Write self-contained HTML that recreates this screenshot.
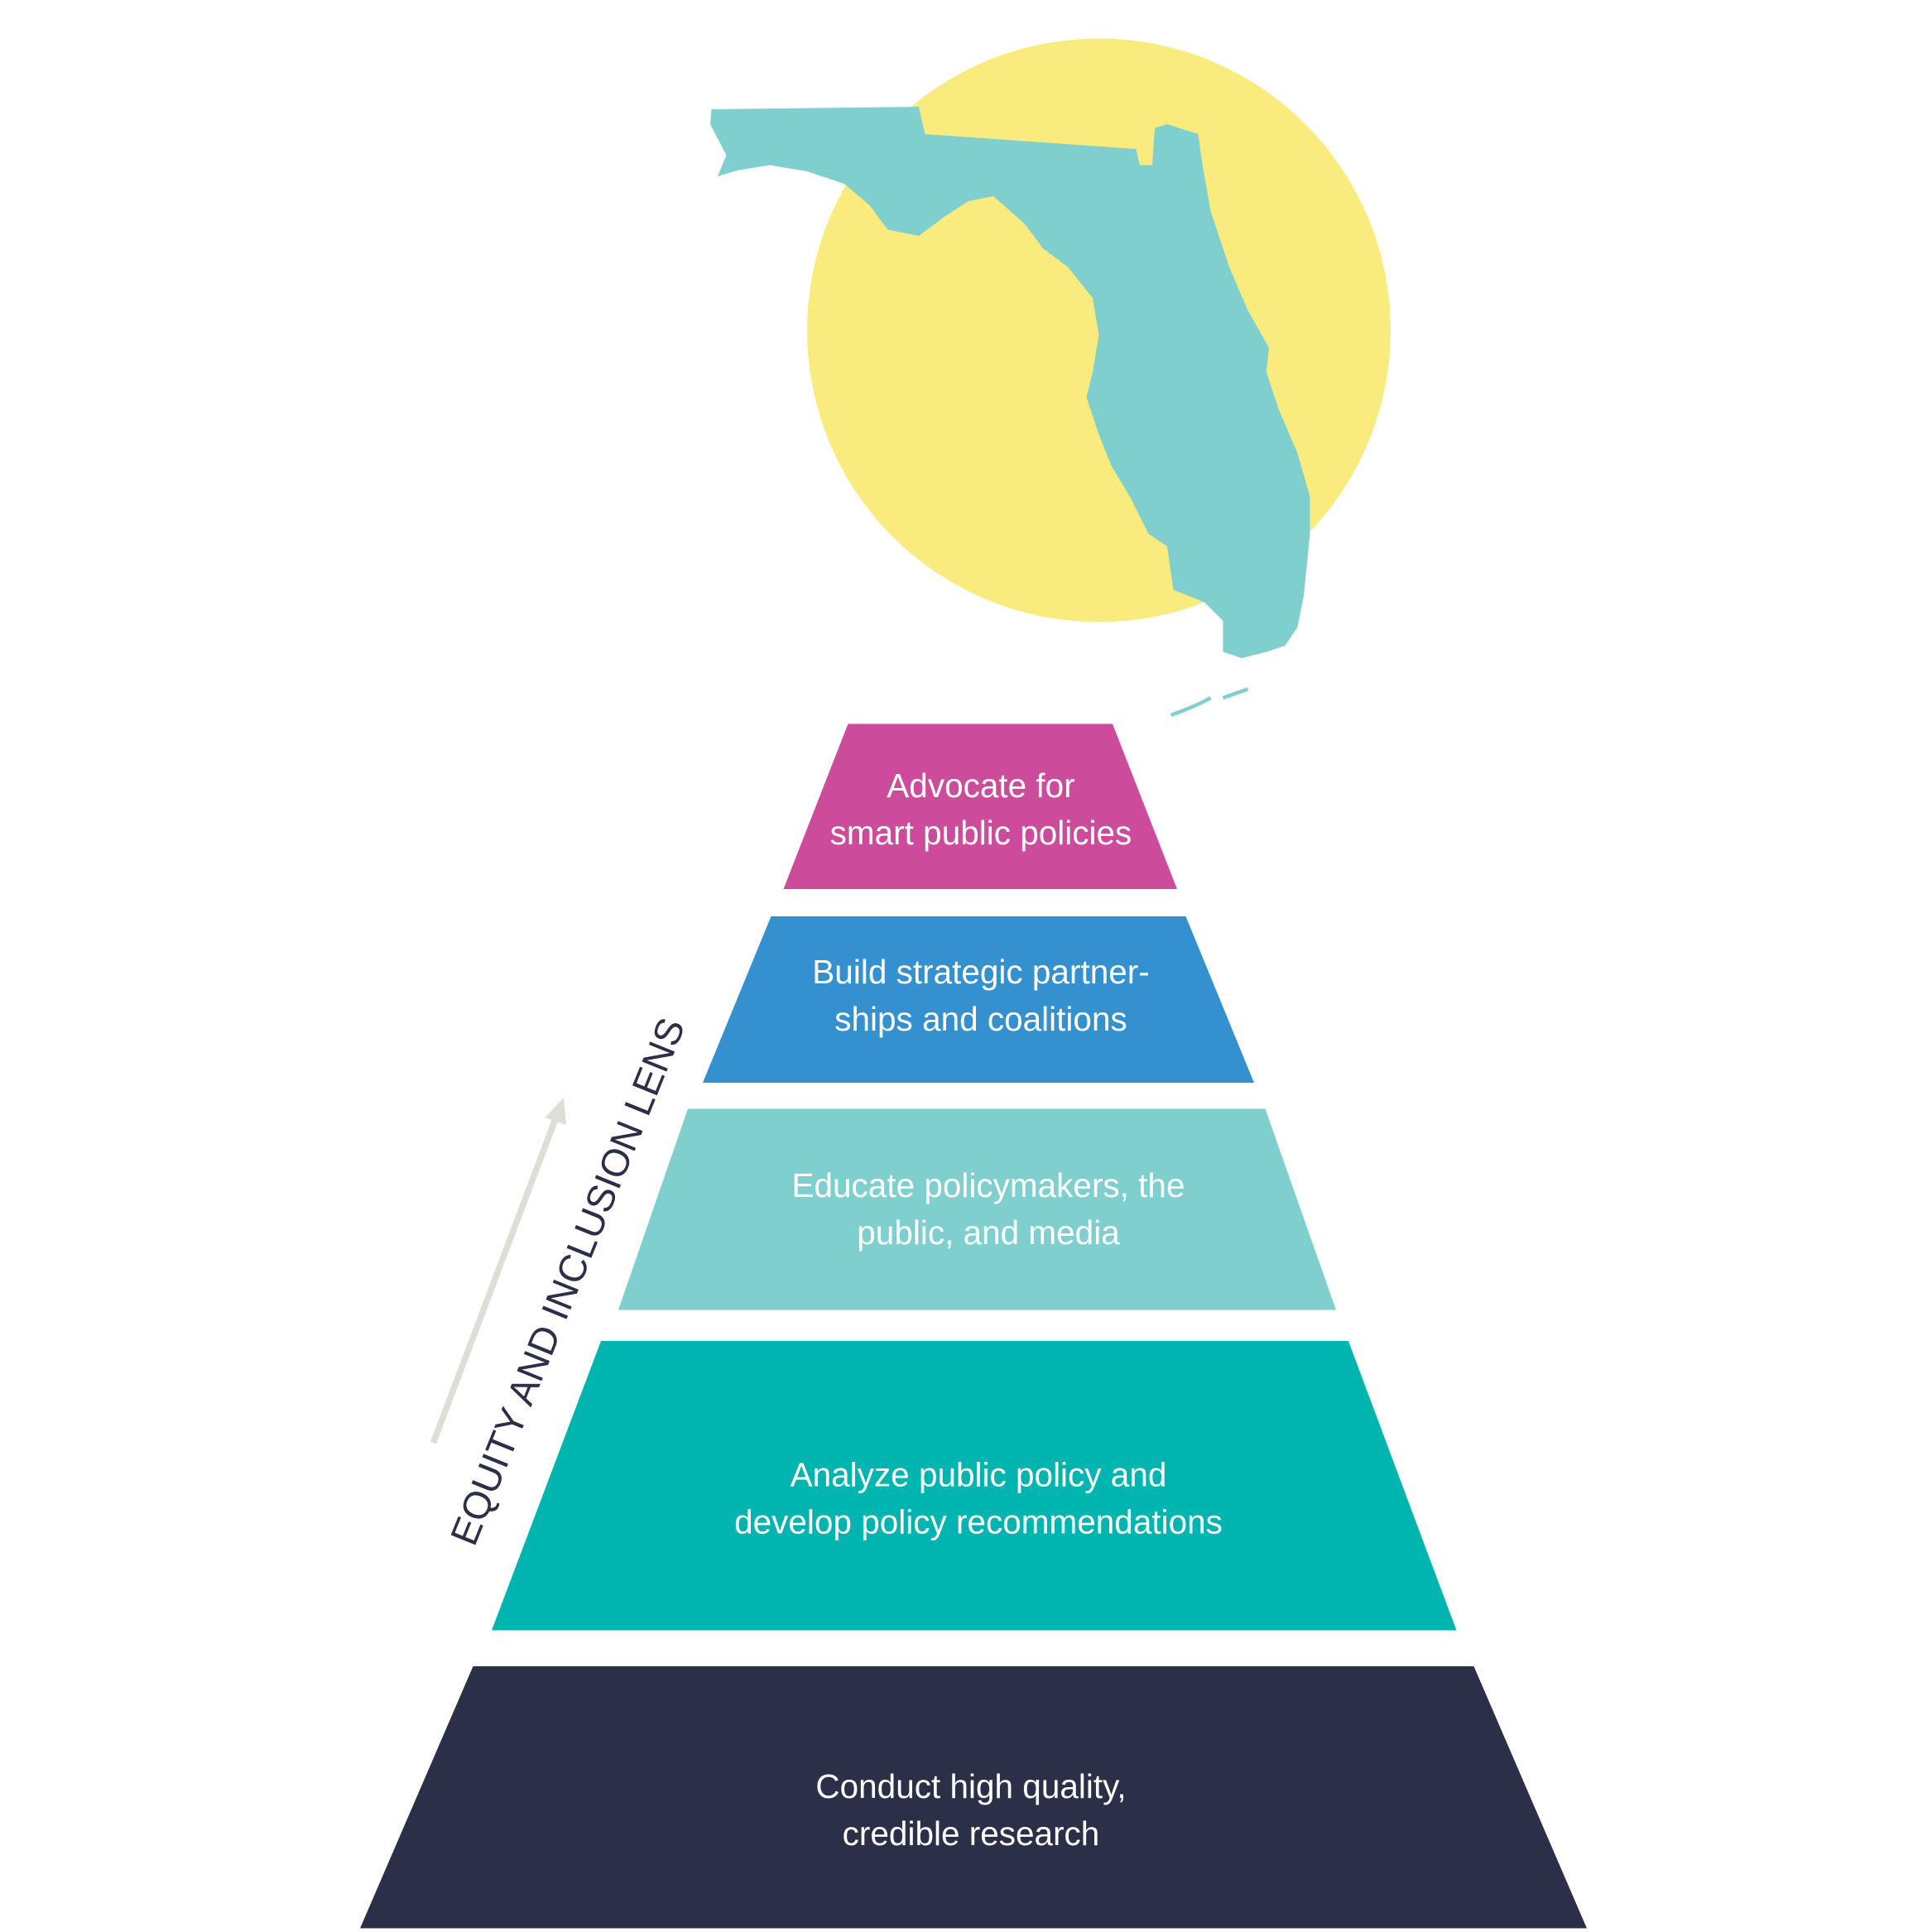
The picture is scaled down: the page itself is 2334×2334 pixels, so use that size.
<!DOCTYPE html>
<html><head><meta charset="utf-8"><style>
html,body{margin:0;padding:0;background:#fff;}
svg{display:block;}
text{font-family:"Liberation Sans",sans-serif;}
</style></head><body>
<svg width="2334" height="2334" viewBox="0 0 1556 1556" xmlns="http://www.w3.org/2000/svg">
<rect width="1556" height="1556" fill="#fff"/>
<circle cx="885" cy="266" r="235" fill="#FAEB7E"/>
<path fill="#80CFCF" d="M573,88 L740,86 L745,108 L915,120 L918,133 L928,133 L930,103 L940,100 L965,108 L968,130 L975,170 L990,215 L1005,250 L1022,280 L1020,300 L1030,330 L1045,365 L1055,400 L1055,430 L1050,480 L1045,505 L1035,520 L1020,525 L1000,530 L985,525 L985,500 L970,485 L945,475 L940,440 L925,430 L910,400 L895,375 L885,350 L875,320 L880,300 L885,270 L880,240 L860,215 L840,200 L825,180 L800,158 L780,162 L760,175 L740,190 L715,185 L700,165 L680,148 L650,138 L620,133 L595,137 L578,142 L585,125 L572,100 Z"/>
<path d="M943,576 Q965,568 975,562 M985,562 L1005,555" stroke="#80CFCF" stroke-width="3" fill="none"/>
<polygon points="683,583 896,583 948,716 631,716" fill="#CC4B9B"/>
<polygon points="621,738 955,738 1010,872 566,872" fill="#3590D0"/>
<polygon points="554,893 1019,893 1076,1055 498,1055" fill="#80CFCF"/>
<polygon points="484,1080 1086,1080 1173,1313 396,1313" fill="#00B5AF"/>
<polygon points="381,1342 1187,1342 1278,1553 290,1553" fill="#2B2F47"/>
<g fill="#fff" font-size="27" text-anchor="middle">
<text x="790" y="642">Advocate for</text>
<text x="790" y="680">smart public policies</text>
<text x="790" y="792">Build strategic partner-</text>
<text x="790" y="830">ships and coalitions</text>
<text x="796" y="964">Educate policymakers, the</text>
<text x="796" y="1002">public, and media</text>
<text x="788" y="1197">Analyze public policy and</text>
<text x="788" y="1235">develop policy recommendations</text>
<text x="782" y="1448">Conduct high quality,</text>
<text x="782" y="1486">credible research</text>
</g>
<line x1="349" y1="1162" x2="447" y2="902" stroke="#DEDED6" stroke-width="5"/>
<polygon points="454,884 456,906 439,900" fill="#DEDED6"/>
<text x="0" y="0" font-size="31" fill="#2B2F47" text-anchor="middle" transform="translate(467,1036) rotate(-68)">EQUITY AND INCLUSION LENS</text>
</svg>
</body></html>
